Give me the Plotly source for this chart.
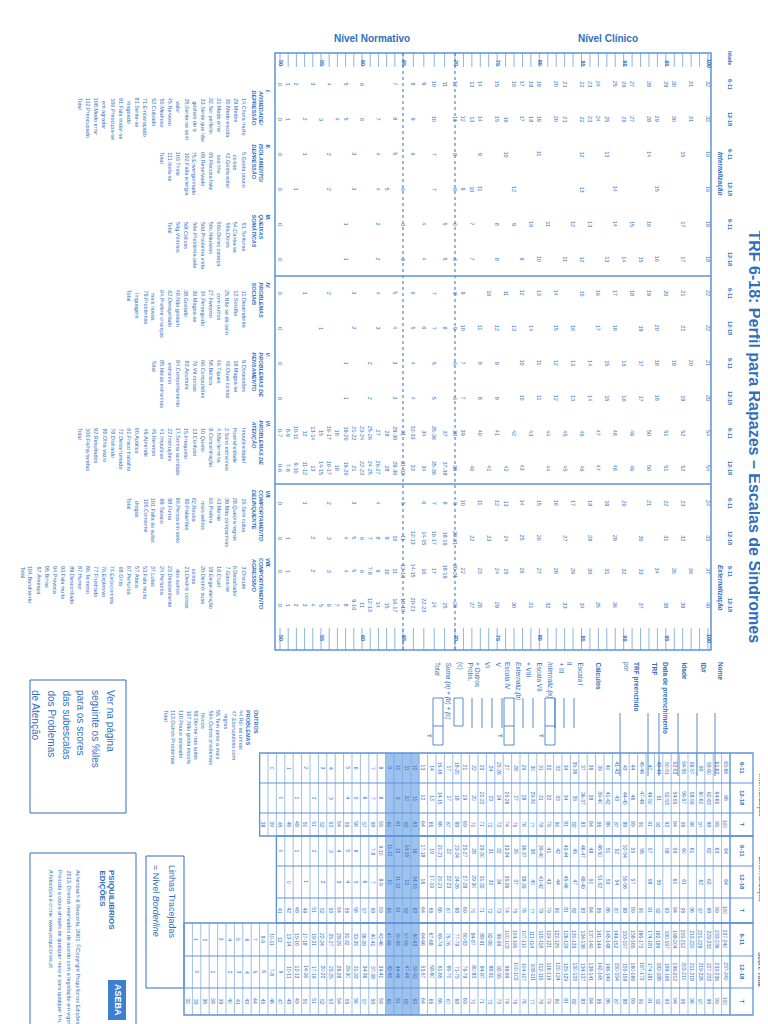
import numpy as np
import plotly.graph_objects as go

BLUE = "#2f6fc0"
LINE = "#5f93d8"
FONT = "Liberation Sans Narrow, Liberation Sans, Arial"

# ---------------- profile data (T-score : raw score) ----------------
t_ticks = [50, 55, 60, 65, 70, 75, 80, 85, 90, 95, 100]

col_I_611 = "50:0 51:1 52:2 54:3 56:4 58:5 60:6 64:7 66:8 67:9 68:10 69:11 70:12 72:13 73:14 75:15 77:16 78:17 79:18 80:19 82:20 83:21 85:22 86:23 87:24 89:25 90:26 91:27 93:28 95:29 96:30 98:31 100:32"
col_I_1218 = "50:0 51:1 53:2 55:3 57:4 58:5 60:6 62:7 64:8 66:9 68:10 70:11 71:12 72:13 73:14 75:15 76:16 78:17 79:18 80:19 82:20 83:21 85:22 86:23 87:24 88:25 90:26 91:27 93:28 94:29 96:30 98:31 100:32"
col_II_611 = "50:0 53:1 56:2 59:3 62:4 64:5 66:6 68:7 70:8 73:9 76:10 80:11 85:12 88:13 93:14 97:15 100:16"
col_II_1218 = "50:0 52:1 56:2 59:3 62:4 63:5 65:6 68:7 70:8 71:9 72:10 73:11 77:12 85:13 89:14 94:15 100:16"
col_III_611 = "50:0 58:1 62:2 65:3 67:4 69:5 70:6 72:7 75:8 77:9 79:10 81:11 84:12 86:13 89:14 91:15 93:16 97:17 100:18"
col_III_1218 = "50:0 58:1 62:2 65:3 67:4 69:5 70:6 72:7 75:8 78:9 80:10 83:11 85:12 88:13 90:14 92:15 94:16 97:17 100:18"
col_IV_611 = "50:0 53:1 56:2 59:3 62:4 64:5 66:6 68:7 70:8 71:9 74:10 76:11 78:12 80:13 82:14 85:15 87:16 89:17 91:18 93:19 95:20 97:21 100:22"
col_IV_1218 = "50:0 55:1 59:2 62:3 64:4 66:5 67:6 68:7 69:8 70:9 71:10 73:11 75:12 77:13 79:14 82:15 84:16 87:17 89:18 92:19 94:20 97:21 100:22"
col_V_611 = "50:0 58:1 61:2 64:3 66:4 68:5 70:6 71:7 73:8 75:9 78:10 80:11 82:12 84:13 86:14 88:15 90:16 92:17 94:18 96:19 98:20 100:21"
col_V_1218 = "50:0 58:1 61:2 64:3 66:4 68:5 70:6 71:7 73:8 75:9 78:10 80:11 82:12 84:13 86:14 88:15 90:16 92:17 94:18 97:19 100:20"
col_VI_611 = "50:0-7 51:8-9 52:10-11 53:12 54:13-14 55:15 56:16-17 57:18 58:19-20 59:21-22 60:23-24 61:25-26 62:27 63:28 64:29-30 65:31 66:32-33 67:34 68:35-36 69:37 70:38 71:39 73:40 75:41 77:42 79:43 81:44 83:45 85:46 87:47 89:48 91:49 93:50 95:51 97:52 100:54"
col_VI_1218 = "50:0-6 51:7-8 52:9-10 53:11-12 54:13 55:14-15 56:16-17 57:18 58:19-20 59:21 60:22-23 61:24-25 62:26-27 63:28 64:29-30 65:31-32 66:33 67:34 68:35-36 69:37-38 70:39 72:40 74:41 76:42 78:43 81:44 83:45 85:46 87:47 89:48 91:49 93:50 95:51 97:52 100:54"
col_VII_611 = "50:0 53:1 56:2 59:3 62:4 65:5 67:6 68:7 69:8 70:9 71:10 73:11 75:12 76:13 78:14 80:15 82:16 84:17 86:18 88:19 90:20 93:21 95:22 97:23 100:24"
col_VII_1218 = "50:0 51:1 54:2 56:3 58:4 59:5 60:6 61:7 62:8 63:9 64:10 65:11 66:12-13 67:14-15 68:16-17 69:18-19 70:20-21 72:22 74:23 76:24 78:25 80:26 83:27 86:28 89:29 92:30 95:31 97:32 100:33"
col_VIII_611 = "50:0 51:1 54:2 56:3 58:4 59:5 60:6 61:7-8 62:9 63:10 64:11 65:12-13 66:14-15 67:16 68:17 69:18-19 70:20-21 71:22 73:23 75:24 76:25 78:26 80:27 82:28 84:29 86:30 88:31 90:32 92:33 94:34 96:35 98:36 100:37"
col_VIII_1218 = "50:0 51:1 52:2 53:3 54:4 55:5 56:6 57:7 58:8 59:9-10 60:11 61:12-13 62:14 63:15 64:16-17 65:18-19 66:20-21 67:22-23 68:24 69:25 70:26 72:27 73:28 75:29 77:30 79:31 81:32 83:33 85:34 87:35 89:36 92:37 95:38 97:39 100:40"

profile_cols = [col_I_611, col_I_1218, col_II_611, col_II_1218, col_III_611, col_III_1218,
                col_IV_611, col_IV_1218, col_V_611, col_V_1218, col_VI_611, col_VI_1218,
                col_VII_611, col_VII_1218, col_VIII_611, col_VIII_1218]
age_labels = ["6-11", "12-18"] * 8

# scale item lists
scale_names = ["I.\nANSIEDADE/\nDEPRESSÃO", "II.\nISOLAMENTO/\nDEPRESSÃO", "III.\nQUEIXAS\nSOMÁTICAS",
               "IV.\nPROBLEMAS\nSOCIAIS", "V.\nPROBLEMAS DE\nPENSAMENTO", "VI.\nPROBLEMAS DE\nATENÇÃO",
               "VII.\nCOMPORTAMENTO\nDELINQUENTE", "VIII.\nCOMPORTAMENTO\nAGRESSIVO"]
items_I = ["14.Chora muito", "29.Medos", "30.Medo escola", "31.Medo errar", "32.Ser perfeito",
           "33.Sente que não", "  gostam de si", "35.Sente-se sem", "  valor", "45.Nervoso", "50.Medroso",
           "52.Culpado", "71.Embaraçado", "81.Sente-se", "  magoado", "91.Fala matar-se",
           "106.Preocupa-se", "  em agradar", "108.Medo errar", "112.Preocupado", "Total"]
items_II = ["5.Gosta pouco", "  coisas", "42.Gosta estar", "  sozinho", "65.Recusa falar", "69.Reservado",
            "75.Envergonhado", "102.Falta energia", "103.Triste", "111.Isola-se", "Total"]
items_III = ["51.Tonturas", "54.Cansa-se", "56a.Dores", "56b.Dores cabeça", "56c.Náuseas",
             "56d.Problema vista", "56e.Problema pele", "56f.Cólicas", "56g.Vómitos", "Total"]
items_IV = ["11.Dependente", "12.Solidão", "25.Não se dá bem", "  com outros", "27.Invejoso",
            "34.Perseguido", "36.Magoa-se", "38.Gozado", "48.Não gostam", "62.Desajeitado",
            "64.Prefere crianças", "  mais novas", "79.Problemas", "  linguagem", "Total"]
items_V = ["9.Obsessões", "18.Magoa-se", "40.Ouve coisas", "46.Tiques", "58.Belisca",
           "66.Compulsões", "70.Vê coisas", "83.Acumula", "84.Comportamento", "  estranho",
           "85.Ideias estranhas", "Total"]
items_VI = ["Impulsividade/", "Hiperatividade", "2.Sons estranhos", "4.Não termina", "8.Concentração",
            "10.Quieto", "13.Confuso", "15.Irrequieto", "17.Sonha acordado", "22.Instruções",
            "41.Impulsivo", "45.Nervoso", "49.Aprende", "60.Apático", "61.Fraco trabalho",
            "72.Desarrumado", "78.Distraído", "80.Olha vazio", "92.Resultados", "100.Falha tarefas", "Total"]
items_VII = ["26.Sem culpa", "28.Quebra regras", "39.Más companhias", "43.Mente", "63.Prefere",
             "  mais velhos", "82.Rouba", "90.Palavrões", "96.Pensa em sexo", "98.Fuma",
             "99.Tabaco", "101.Falta às aulas", "105.Consome", "  drogas", "Total"]
items_VIII = ["3.Discute", "6.Desafiador", "7.Gaba-se", "16.Cruel", "19.Exige atenção",
              "20.Destrói suas", "  coisas", "21.Destrói coisas", "  dos outros", "23.Desobediente",
              "24.Perturba", "37.Lutas", "53.Fala muito", "57.Ataca", "67.Perturba", "68.Grita",
              "74.Exibicionista", "76.Explosivo", "77.Frustrado", "86.Teimoso", "87.Humor",
              "89.Desconfiado", "93.Fala muito", "94.Provoca", "95.Birras", "97.Ameaça",
              "104.Barulhento", "Total"]
scale_items = [items_I, items_II, items_III, items_IV, items_V, items_VI, items_VII, items_VIII]

other_items = ["OUTROS", "PROBLEMAS", "44.Rói as unhas", "47.Escrupuloso com", "  regras",
               "55.Tem peso a mais", "56h.Outros problemas", "  físicos", "59.Dorme nas aulas",
               "107.Não gosta escola", "110.Pouco asseado", "113.Outros Problemas", "Total"]

id_labels = ["Nome", "ID#", "Idade", "Data de preenchimento", "TRF", "TRF preenchido", "por",
             "Cálculos", "Escala I", "II", "+ III", "Internaliz.(a)", "Escala VII", "+ VIII",
             "Externaliz.(b)", "Escala IV", "V", "VI", "+ Outros", "Probs.", "(c)",
             "Soma (a) + (b) + (c)", "Total"]
id_x = [713, 695, 676, 657, 646, 628, 618, 590, 572, 562, 553, 542, 531, 521, 510, 500, 490, 480,
        470, 462, 452, 440, 430]

# ---------------- summary table data ----------------
int_T = list(range(100, 49, -1)) + [48, 46, 45, 39, 38]
int_611 = ("63-66 61-62 59-60 58 56-57 54-55 52-53 50-51 48-49 47 45-46 44 43 41-42 40 39 38 37 35-36 34 "
           "33 32 31 30 29 28 27 25-26 24 23 22 21 18-20 17 15-16 14 13 12 11 10 9 8 7 - 6 5 - 4 3 - 2 - 1 - 0 -").split()
int_1218 = ("66 64-65 62-63 60-61 58-59 56-57 54-55 52-53 51 49-50 47-48 46 44-45 43 41-42 39-40 38 36-37 35 34 "
            "33 32 31 29-30 28 27 25-26 24 23 21-22 20 19 18 17 14-15 13 12 11 10 9 - 8 7 6 5 4 - 3 - 2 - 1 - 0 - -").split()
ext_T = list(range(100, 50, -1)) + [49, 48, 42, 41]
ext_611 = ("64 63 62 - 61 60 59 58 - 57 56 55 52-54 52 51 48-50 48 46-47 45 43-44 42 41 39-40 38 36-37 35 "
           "33-34 32 31 29-30 28 25-27 23-24 22 20-21 19 17-18 16 14-15 13 11-12 9-10 7-8 - 6 5 4 3 - 2 - 1 - 0").split()
ext_1218 = ("64 - 63 62 - 61 60 - 59 58 - 57 55-56 54 53 51-52 50 48-49 47 45-46 44 43 41-42 40 38-39 37 "
            "35-36 34 33 31-32 29-30 27-28 24-26 22-23 20-21 17-19 16 14-15 13 11-12 10 8-9 7 6 5 4 3 - 2 - 1 - 0 -").split()
tot_T = list(range(100, 42, -1)) + [41, 40, 39, 38, 36, 33, 32]
tot_611 = ("237-240 233-236 229-232 221-228 213-220 205-212 198-204 190-197 182-189 174-181 "
           "166-173 158-165 153-157 149-152 145-148 141-144 137-140 134-136 130-133 126-129 "
           "122-125 119-121 115-118 111-114 107-110 104-106 100-103 96-99 92-95 88-91 "
           "84-87 80-83 77-79 75-76 69-74 67-68 64-66 60-63 57-59 50-56 "
           "47-49 42-46 40-41 36-39 33-35 30-32 28-29 25-27 22-24 19-21 "
           "17-18 15-16 13-14 12 10-11 8-9 7 6 5 4 3 - 2 1 - 0").split()
tot_1218 = ("237-240 233-236 227-232 219-226 211-218 203-210 196-202 189-195 182-188 174-181 "
            "167-173 160-166 155-159 150-154 146-149 142-145 138-141 134-137 130-133 125-129 "
            "120-124 116-119 112-115 108-111 104-107 100-103 96-99 92-95 88-91 84-87 "
            "80-83 76-79 71-75 66-70 61-65 58-60 53-57 50-52 47-49 44-46 "
            "42-43 39-41 37-38 34-36 31-33 29-30 26-28 23-25 20-22 17-19 "
            "14-16 12-13 10-11 9 7-8 6 5 4 3 2 - 1 - 0 -").split()

# ---------------- geometry ----------------
t_knots = [50, 65, 70, 100]
x_knots = [272, 395, 447, 700]
def tx(t):
    return float(np.interp(t, t_knots, x_knots))

box_l, box_r, box_t, box_b = 267, 703, 45, 642
col_y = [76, 111, 146, 181, 216, 251, 285, 320, 355, 390, 425, 460, 495, 530, 563, 597]
scale_top = [88, 142, 212, 280, 350, 418, 488, 556]

ann = []
shapes = []

def txt(x, y, s, size=6, angle=90, xa="center", ya="middle", bold=False, color=BLUE, italic=False):
    if bold:
        s = "<b>" + s + "</b>"
    if italic:
        s = "<i>" + s + "</i>"
    ann.append(dict(x=x, y=y, text=s, textangle=angle, showarrow=False, xanchor=xa, yanchor=ya,
                    font=dict(size=size, color=color, family=FONT)))

def line(x0, y0, x1, y1, w=0.8, dash="solid", color=LINE):
    shapes.append(dict(type="line", x0=x0, y0=y0, x1=x1, y1=y1, line=dict(color=color, width=w, dash=dash)))

# profile box
shapes.append(dict(type="rect", x0=box_l, y0=box_t, x1=box_r, y1=box_b, line=dict(color=LINE, width=1.5)))
for t in range(50, 101):
    line(tx(t), box_t, tx(t), box_t + 14, w=0.7)
    line(tx(t), box_b - 22, tx(t), box_b, w=0.7)
for t in [65, 70]:
    line(tx(t), box_t, tx(t), box_b, w=1, dash="dot", color=BLUE)
for y in [268, 476]:
    line(box_l, y, box_r, y, w=1.6)
for t in t_ticks:
    txt(tx(t) + 1, box_t + 10, str(t), size=5.5, bold=True)
    txt(tx(t) + 1, box_b - 12, str(t), size=5.5, bold=True)
txt(364, 30, "Nível Normativo", size=10, angle=0, bold=True)
txt(600, 30, "Nível Clínico", size=10, angle=0, bold=True)
txt(722, 50, "Idade", size=5.5, bold=True)

for cy, col, age in zip(col_y, profile_cols, age_labels):
    txt(722, cy, age, size=5.5, bold=True)
    for tok in col.split():
        t, raw = tok.split(":")
        txt(tx(int(t)), cy, raw, size=5.5)
txt(712, 165, "Internalização", size=6.5, italic=True, bold=True)
txt(712, 580, "Externalização", size=6.5, italic=True, bold=True)

# scale labels and items
for top, name, items in zip(scale_top, scale_names, scale_items):
    for k, part in enumerate(name.split("\n")):
        txt(260 - k * 7, top - 8, part, size=5.5, ya="top", bold=True, italic=True)
    for k, it in enumerate(items):
        txt(236 - k * 8.2, top, it, size=5.5, ya="top")

# title
txt(746, 220, "TRF 6-18: Perfil para Rapazes – Escalas de Síndromes", size=16, bold=True, ya="top")

# ID / calculation block
for k, (lab, xx) in enumerate(zip(id_labels, id_x)):
    txt(xx, 652, lab, size=6.5, ya="top", bold=k in (0, 1, 2, 3, 4, 5, 7), italic=k in (11, 14, 21))
for xx in [713, 695, 676, 657, 646, 618]:
    line(xx - 6, 705, xx - 6, 768, w=0.8, color=BLUE)
for xx in [572, 562, 553, 531, 521, 500, 490, 480, 470]:
    line(xx - 6, 690, xx - 6, 720, w=0.8, color=BLUE)
for x0, x1, y1 in [(537, 547, 737), (496, 506, 737), (446, 455, 718), (425, 435, 737)]:
    shapes.append(dict(type="rect", x0=x0, y0=690, x1=x1, y1=y1, line=dict(color=BLUE, width=0.8)))
    if y1 > 720:
        line(x0, 718, x1, 718, w=0.8, color=BLUE)
        txt(x0 - 4, 728, "T", size=6, bold=True)

# other problems
for k, it in enumerate(other_items):
    txt(248 - k * 7.5, 700, it, size=5.5, ya="top", bold=k < 2)

# info boxes
shapes.append(dict(type="rect", x0=22, y0=672, x1=118, y1=805, line=dict(color=BLUE, width=1)))
for k, s in enumerate(["Ver na página", "seguinte os %iles", "para os scores", "das subescalas",
                       "dos Problemas", "de Atenção"]):
    txt(103 - k * 15, 680, s, size=10, ya="top")
shapes.append(dict(type="rect", x0=138, y0=848, x1=176, y1=980, line=dict(color=BLUE, width=1)))
txt(164, 855, "Linhas Tracejadas", size=9, ya="top")
txt(148, 855, "= Nível <i>Borderline</i>", size=9, ya="top")
shapes.append(dict(type="rect", x0=22, y0=845, x1=128, y1=1018, line=dict(color=BLUE, width=1)))
txt(104, 860, "<b>PSIQUILIBRIOS</b>", size=8, ya="top")
txt(94, 860, "<b>EDIÇÕES</b>", size=8, ya="top")
shapes.append(dict(type="rect", x0=100, y0=972, x1=118, y1=1012, fillcolor="#3f7fd0", line=dict(width=0)))
txt(110, 992, "ASEBA", size=9, bold=True, color="white")
for k, s in enumerate(["Achenbach & Rescorla, 2001. ©Copyright Psiquilíbrios Edições,",
                       "2013. Direitos reservados de acordo com a legislação em vigor.",
                       "Proibida a cópia através de qualquer meio e para qualquer fim.",
                       "A fotocópia é crime. www.psiquilibrios.pt"]):
    txt(70 - k * 9, 860, s, size=5.5, ya="top")

# summary tables
cell_w = 8.4
right = 722
groups = [("Internalização", int_T, int_611, int_1218, 745, 775, 805, 828),
          ("Externalização", ext_T, ext_611, ext_1218, 828, 858, 890, 915),
          ("Score Total", tot_T, tot_611, tot_1218, 915, 948, 980, 1007)]
for name, ts, a, b, y0, y1, y2, y3 in groups:
    n = len(ts)
    left = right - n * cell_w
    for i, t in enumerate(ts):
        if 60 <= t <= 63:
            shapes.append(dict(type="rect", x0=right - (i + 1) * cell_w, x1=right - i * cell_w,
                               y0=y0, y1=y3, fillcolor="#9ec2ee", line=dict(width=0), layer="below"))
    shapes.append(dict(type="rect", x0=left, y0=y0, x1=745, y1=y3, line=dict(color=LINE, width=1.3)))
    for i in range(n + 1):
        line(right - i * cell_w, y0, right - i * cell_w, y3, w=0.6)
    line(right, y0, right, y3, w=1.2)
    for yy in (y1, y2):
        line(left, yy, 745, yy, w=1)
    txt(753, (y0 + y3) / 2, name, size=6.5, bold=True)
    for lab, yc in zip(["6-11", "12-18", "T"], [(y0 + y1) / 2, (y1 + y2) / 2, (y2 + y3) / 2]):
        txt(734, yc, lab, size=6, bold=True)
    for i, (t, va, vb) in enumerate(zip(ts, a, b)):
        xc = right - (i + 0.5) * cell_w
        if va != "-":
            txt(xc, (y0 + y1) / 2, va, size=5)
        if vb != "-":
            txt(xc, (y1 + y2) / 2, vb, size=5)
        txt(xc, (y2 + y3) / 2, str(t), size=5)

fig = go.Figure()
fig.add_trace(go.Scatter(x=[0, 768], y=[0, 1024], mode="markers", marker=dict(opacity=0), hoverinfo="skip"))
fig.update_layout(
    width=768, height=1024, margin=dict(l=0, r=0, t=0, b=0),
    plot_bgcolor="white", paper_bgcolor="white", showlegend=False,
    xaxis=dict(range=[0, 768], visible=False, fixedrange=True),
    yaxis=dict(range=[1024, 0], visible=False, fixedrange=True),
    annotations=ann, shapes=shapes,
)
fig.write_html("out.html")
